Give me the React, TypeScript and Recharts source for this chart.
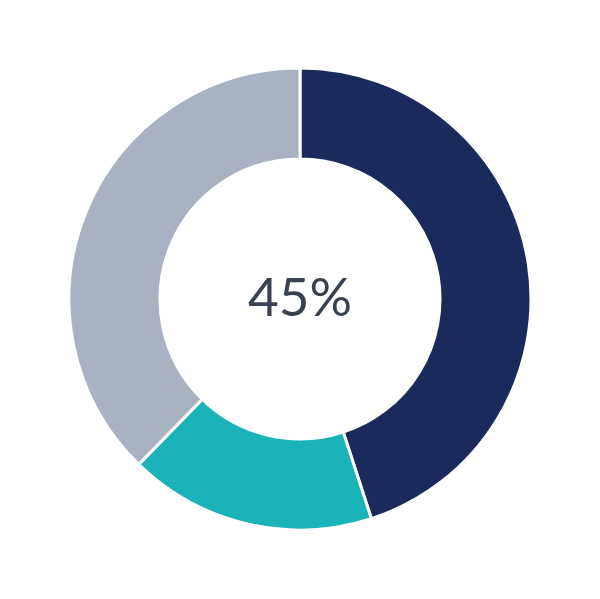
import React from "react";
import { PieChart, Pie, Cell } from "recharts";

const categories = ["A", "B", "C"];
const values = [45, 17.3, 37.7];
const colors = ["#1b2a5a", "#1ab4b8", "#a8b2c1"];
const centerLabel = "45%";

const data = categories.map((name, i) => ({ name, value: values[i] }));

export default function App() {
  return (
    <div style={{ position: "absolute", left: 0, top: 0, width: 600, height: 599, background: "#fff" }}>
      <PieChart width={600} height={599} margin={{ top: 0, right: 0, bottom: 0, left: 0 }}>
        <Pie
          data={data}
          dataKey="value"
          cx={300}
          cy={299}
          innerRadius={140}
          outerRadius={231}
          startAngle={90}
          endAngle={-270}
          stroke="#ffffff"
          strokeWidth={3}
          isAnimationActive={false}
        >
          {data.map((d, i) => (
            <Cell key={d.name} fill={colors[i]} />
          ))}
        </Pie>
        <text
          x={300}
          y={295}
          textAnchor="middle"
          dominantBaseline="central"
          fontFamily="Lato"
          fontSize={53}
          fill="#3a4150"
        >
          {centerLabel}
        </text>
      </PieChart>
    </div>
  );
}
